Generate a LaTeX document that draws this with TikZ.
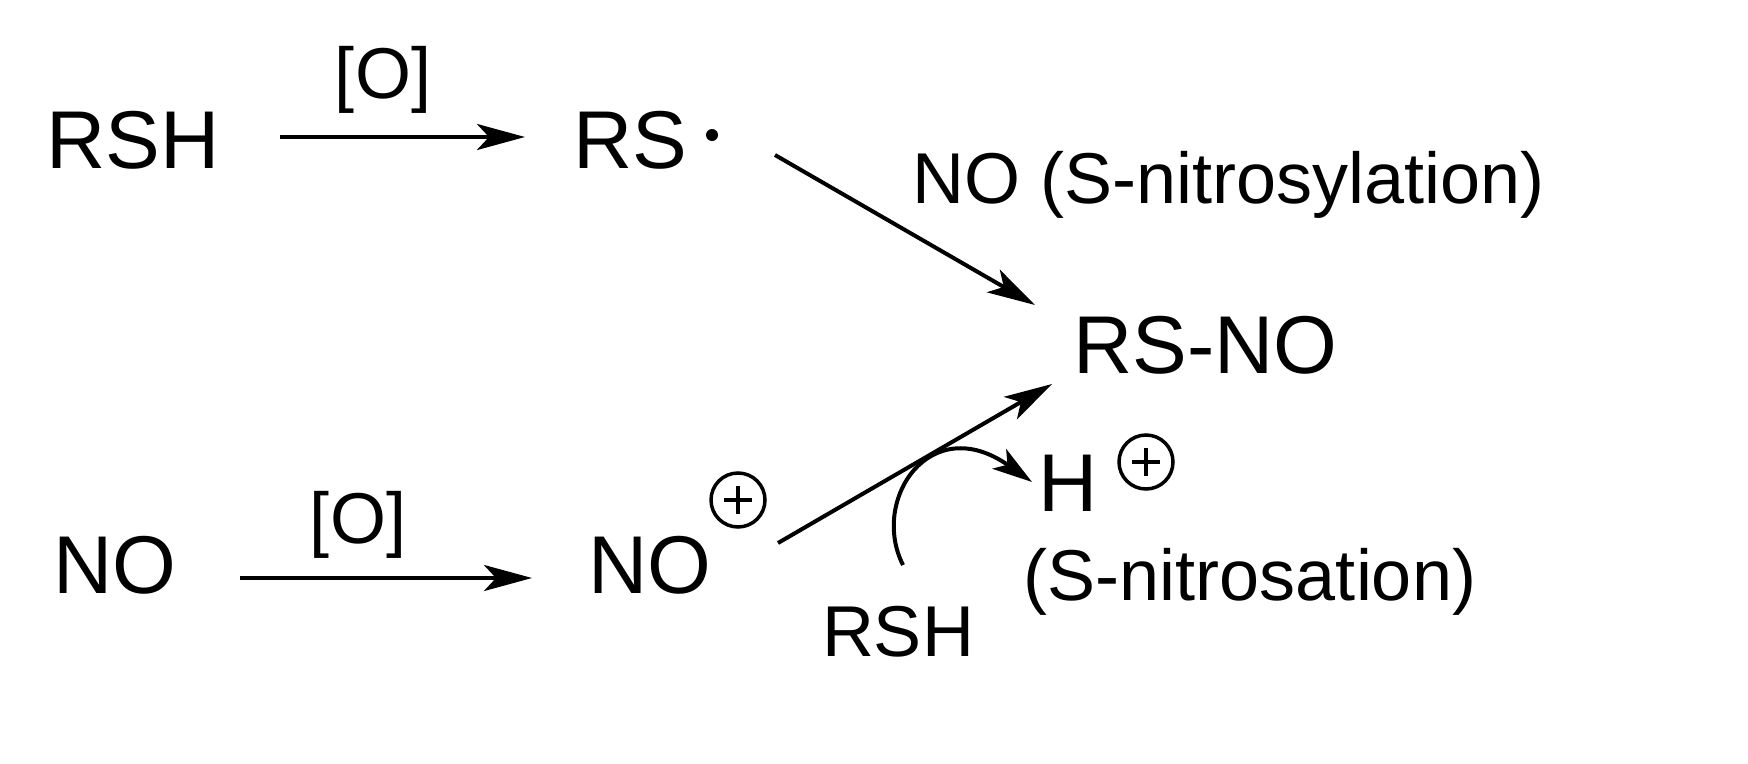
\documentclass[tikz,border=0pt]{standalone}
\usepackage{fontspec}
\setmainfont{Liberation Sans}
\usetikzlibrary{arrows.meta}
\begin{document}
\begin{tikzpicture}[x=1pt,y=-1pt,
  big/.style={font=\fontsize{82}{90}\selectfont,inner sep=0pt},
  lab/.style={font=\fontsize{72}{80}\selectfont,inner sep=0pt},
  arr/.style={line width=4pt,-{Stealth[length=48pt,width=26pt,inset=12pt]}},
  plus/.style={circle,draw,line width=3.5pt,minimum size=54pt,inner sep=0pt,
    path picture={\draw[line width=3.5pt] ([xshift=-14pt]path picture bounding box.center) -- ([xshift=14pt]path picture bounding box.center);
                  \draw[line width=3.5pt] ([yshift=-14pt]path picture bounding box.center) -- ([yshift=14pt]path picture bounding box.center);}}]
\useasboundingbox (0,0) rectangle (1748,763);
\node[big] (rsh) at (133,140) {RSH};
\node[big] (rs) at (630,140) {RS};
\fill (712,135) circle (6pt);
\coordinate (a1s) at (280,137);
\coordinate (a1e) at (525,137);
\draw[arr] (a1s) -- (a1e);
\node[lab] (o1) at (383,80) {[O]};
\coordinate (d1s) at (775,155);
\coordinate (d1e) at (1035,305);
\draw[arr] (d1s) -- (d1e);
\node[lab,anchor=west] (nitrosyl) at (912,185) {NO (S-nitrosylation)};
\node[big,anchor=west] (rsno) at (1073,345) {RS-NO};
\node[big] (no) at (115,565) {NO};
\coordinate (a2s) at (240,578);
\coordinate (a2e) at (532,578);
\draw[arr] (a2s) -- (a2e);
\node[lab] (o2) at (358,525) {[O]};
\node[big] (nop) at (650,565) {NO};
\node[plus] (p1) at (738,500) {};
\coordinate (d2s) at (778,543);
\coordinate (d2e) at (1052,384);
\draw[arr] (d2s) -- (d2e);
\coordinate (cs) at (903,565);
\coordinate (ce) at (1032,482);
\draw[line width=4pt,-{Stealth[length=40pt,width=24pt,inset=10pt]}] (cs) .. controls (870,500) and (930,410) .. (ce);
\node[big] (h) at (1068,483) {H};
\node[plus] (p2) at (1146,462) {};
\node[lab] (nitros) at (1250,582) {(S-nitrosation)};
\node[lab] (rsh2) at (898,632) {RSH};
\end{tikzpicture}
\end{document}
